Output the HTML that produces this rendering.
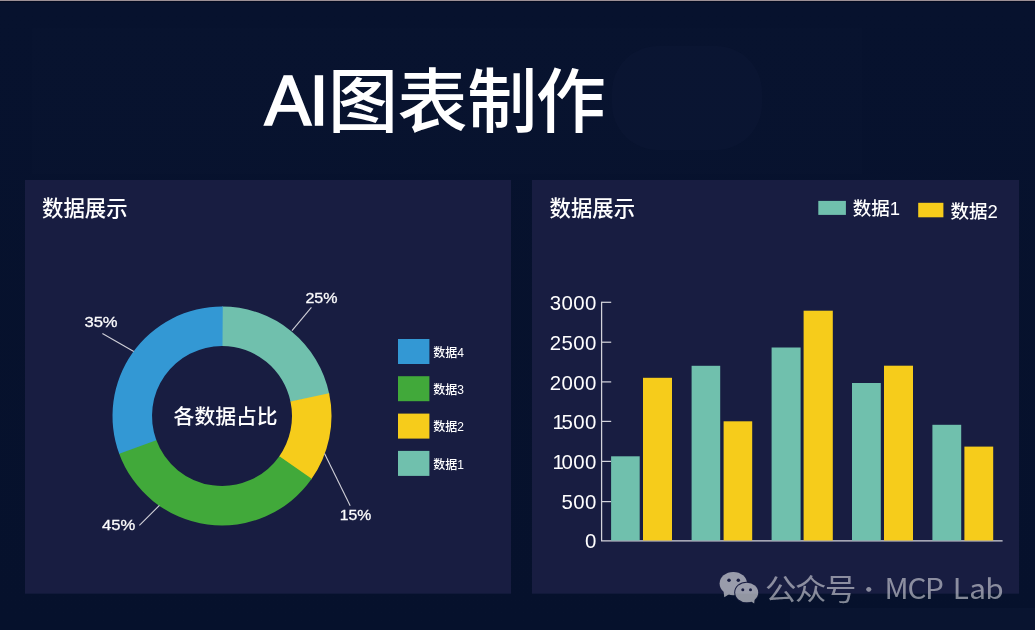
<!DOCTYPE html>
<html lang="zh">
<head>
<meta charset="utf-8">
<title>AI图表制作</title>
<style>
html,body{margin:0;padding:0;background:#08122e;overflow:hidden;}
body{width:1035px;height:630px;position:relative;font-family:"Liberation Sans","Noto Sans CJK SC",sans-serif;}
svg{position:absolute;left:0;top:0;display:block;}
text{font-family:"Liberation Sans","Noto Sans CJK SC",sans-serif;fill:#fff;}
.cjk{font-family:"Noto Sans CJK SC","Liberation Sans",sans-serif;}
</style>
</head>
<body>
<svg width="1035" height="630" viewBox="0 0 1035 630">
  <defs>
    <linearGradient id="bg" x1="0" y1="0" x2="0" y2="1">
      <stop offset="0" stop-color="#07122e"/>
      <stop offset="1" stop-color="#06112c"/>
    </linearGradient>
  </defs>
  <rect width="1035" height="630" fill="url(#bg)"/>
  <rect x="0" y="0" width="1035" height="1" fill="#9c9096"/>
  <rect x="0" y="1" width="1035" height="1.2" fill="#050b20"/>
  <!-- subtle background tone variations -->
  <rect x="32" y="28" width="830" height="146" fill="#0a1633" opacity="0.25"/>
  <rect x="612" y="46" width="150" height="104" rx="46" fill="#0e1a38" opacity="0.4"/>
  <rect x="790" y="608" width="245" height="22" fill="#0b1734" opacity="0.6"/>

  <!-- panels -->
  <rect x="25" y="180" width="486" height="413.7" fill="#181d41"/>
  <rect x="532" y="180" width="487" height="413.7" fill="#181d41"/>

  <!-- title -->
  <g id="title">
    <text x="264.6 309.2" y="125.2" font-size="70" stroke="#fff" stroke-width="1.7">AI</text>
    <text y="126.5" font-size="70" font-weight="500" class="cjk" x="328 397.5 467.2 535.7">图表制作</text>
  </g>

  <!-- left panel -->
  <text x="42" y="216" font-size="21.4" font-weight="500" class="cjk" id="lt">数据展示</text>

  <!-- donut -->
  <g id="donut">
    <path d="M222.00 306.50A109.5 109.5 0 0 1 329.30 394.17L290.59 402.04A70 70 0 0 0 222.00 346.00Z" fill="#70c0ad"/>
    <path d="M329.11 393.23A109.5 109.5 0 0 1 311.15 479.59L278.99 456.65A70 70 0 0 0 290.47 401.45Z" fill="#f6cc1b"/>
    <path d="M311.70 478.81A109.5 109.5 0 0 1 118.91 452.91L156.10 439.60A70 70 0 0 0 279.34 456.15Z" fill="#41a93a"/>
    <path d="M119.24 453.81A109.5 109.5 0 0 1 222.76 306.50L222.49 346.00A70 70 0 0 0 156.31 440.17Z" fill="#3398d4"/>
  </g>
  <text x="173.6" y="424.2" font-size="20.8" font-weight="500" class="cjk" id="center">各数据占比</text>
  <g stroke="#d0d0d8" stroke-width="1.1" fill="none">
    <path d="M292 330.6L311.4 307.4"/>
    <path d="M133.8 351.6L102.4 333.5"/>
    <path d="M159.4 505.4L139.4 525.4"/>
    <path d="M324.5 453.4L350.2 505.8"/>
  </g>
  <g fill="#f2f2f5" stroke="#f2f2f5" stroke-width="0.3">
    <text transform="translate(305.4 303.2) scale(1.1 1)" font-size="14.6">25%</text>
    <text transform="translate(84.4 327) scale(1.1 1)" font-size="15.1">35%</text>
    <text transform="translate(102 530.4) scale(1.1 1)" font-size="15.1">45%</text>
    <text transform="translate(339.8 519.8) scale(1.08 1)" font-size="14.6">15%</text>
  </g>

  <!-- donut legend -->
  <g id="legend1">
    <rect x="398" y="339" width="31.4" height="25" fill="#3398d4"/>
    <rect x="398" y="376.2" width="31.4" height="25" fill="#41a93a"/>
    <rect x="398" y="413.6" width="31.4" height="25" fill="#f6cc1b"/>
    <rect x="398" y="450.9" width="31.4" height="25" fill="#70c0ad"/>
    <g font-size="12" font-weight="500">
      <text x="433.2" y="356.6">数据4</text>
      <text x="433.2" y="393.9">数据3</text>
      <text x="433.2" y="431.3">数据2</text>
      <text x="433.2" y="468.6">数据1</text>
    </g>
  </g>

  <!-- right panel -->
  <text x="549.5" y="216" font-size="21.4" font-weight="500" class="cjk" id="rt">数据展示</text>
  <rect x="818.3" y="200.9" width="27.6" height="14" fill="#70c0ad"/>
  <text x="852.8" y="215.2" font-size="18.5" font-weight="500">数据1</text>
  <rect x="918.2" y="202.8" width="25.2" height="14.5" fill="#f6cc1b"/>
  <text x="950.6" y="218" font-size="18.5" font-weight="500">数据2</text>

  <!-- axis -->
  <g stroke="#d2d2da" stroke-width="1.25" fill="none">
    <path d="M601.6 301.7V540.9H1002.6"/>
    <path d="M601.6 302.3H611.2"/>
    <path d="M601.6 342.2H611.2"/>
    <path d="M601.6 381.9H611.2"/>
    <path d="M601.6 421.4H611.2"/>
    <path d="M601.6 461.4H611.2"/>
    <path d="M601.6 501.6H611.2"/>
  </g>
  <g font-size="20.4" text-anchor="end" fill="#f4f4f6" letter-spacing="0.35">
    <text x="596.6" y="310.0">3000</text>
    <text x="596.6" y="349.9">2500</text>
    <text x="596.6" y="389.6">2000</text>
    <text x="596.6" y="429.1">1<tspan dx="-2.6">500</tspan></text>
    <text x="596.6" y="469.1">1<tspan dx="-2.6">000</tspan></text>
    <text x="596.6" y="509.3">500</text>
    <text x="596.6" y="548.3">0</text>
  </g>
  <g id="bars">
    <rect x="611.1" y="456.3" width="28.6" height="84.2" fill="#70c0ad"/>
    <rect x="643" y="377.8" width="29.0" height="162.7" fill="#f6cc1b"/>
    <rect x="691.6" y="365.8" width="28.6" height="174.7" fill="#70c0ad"/>
    <rect x="723.6" y="421.3" width="28.6" height="119.2" fill="#f6cc1b"/>
    <rect x="771.6" y="347.5" width="29.0" height="193.0" fill="#70c0ad"/>
    <rect x="803.6" y="310.7" width="29.2" height="229.8" fill="#f6cc1b"/>
    <rect x="852" y="383" width="28.8" height="157.5" fill="#70c0ad"/>
    <rect x="884" y="365.7" width="29.0" height="174.8" fill="#f6cc1b"/>
    <rect x="932.4" y="424.8" width="28.8" height="115.7" fill="#70c0ad"/>
    <rect x="964.4" y="446.6" width="28.8" height="93.9" fill="#f6cc1b"/>
  </g>
  <!-- watermark -->
  <g id="wm" opacity="0.56">
    <g fill="#fff">
      <ellipse cx="733.3" cy="583.6" rx="13.7" ry="11.7"/>
      <path d="M723.6 591.5L724.3 597.3L729.5 594Z"/>
    </g>
    <ellipse cx="746.7" cy="592.5" rx="12.5" ry="10.8" fill="#181d41"/>
    <g fill="#fff">
      <ellipse cx="746.7" cy="592.5" rx="11.5" ry="9.8"/>
      <path d="M750.5 601L754.2 603.6L754.6 599Z"/>
    </g>
    <g fill="#181d41">
      <circle cx="729" cy="580.3" r="1.75"/>
      <circle cx="738.3" cy="580.3" r="1.75"/>
      <circle cx="742.8" cy="589.7" r="1.5"/>
      <circle cx="750.5" cy="589.7" r="1.5"/>
    </g>
  </g>
  <g id="wmtext" opacity="0.5">
    <g transform="translate(765 0) scale(1.07 1)">
      <text y="600" font-size="29.3" class="cjk" x="0 28 56">公众号</text>
      <text y="596.9" font-size="22" x="85.9" class="cjk">·</text>
      <text y="598.7" font-size="27.8" x="111.7 133.2 149.6 160 175.4 190.8 205.8" class="cjk" xml:space="preserve">MCP Lab</text>
    </g>
  </g>
</svg>
</body>
</html>
